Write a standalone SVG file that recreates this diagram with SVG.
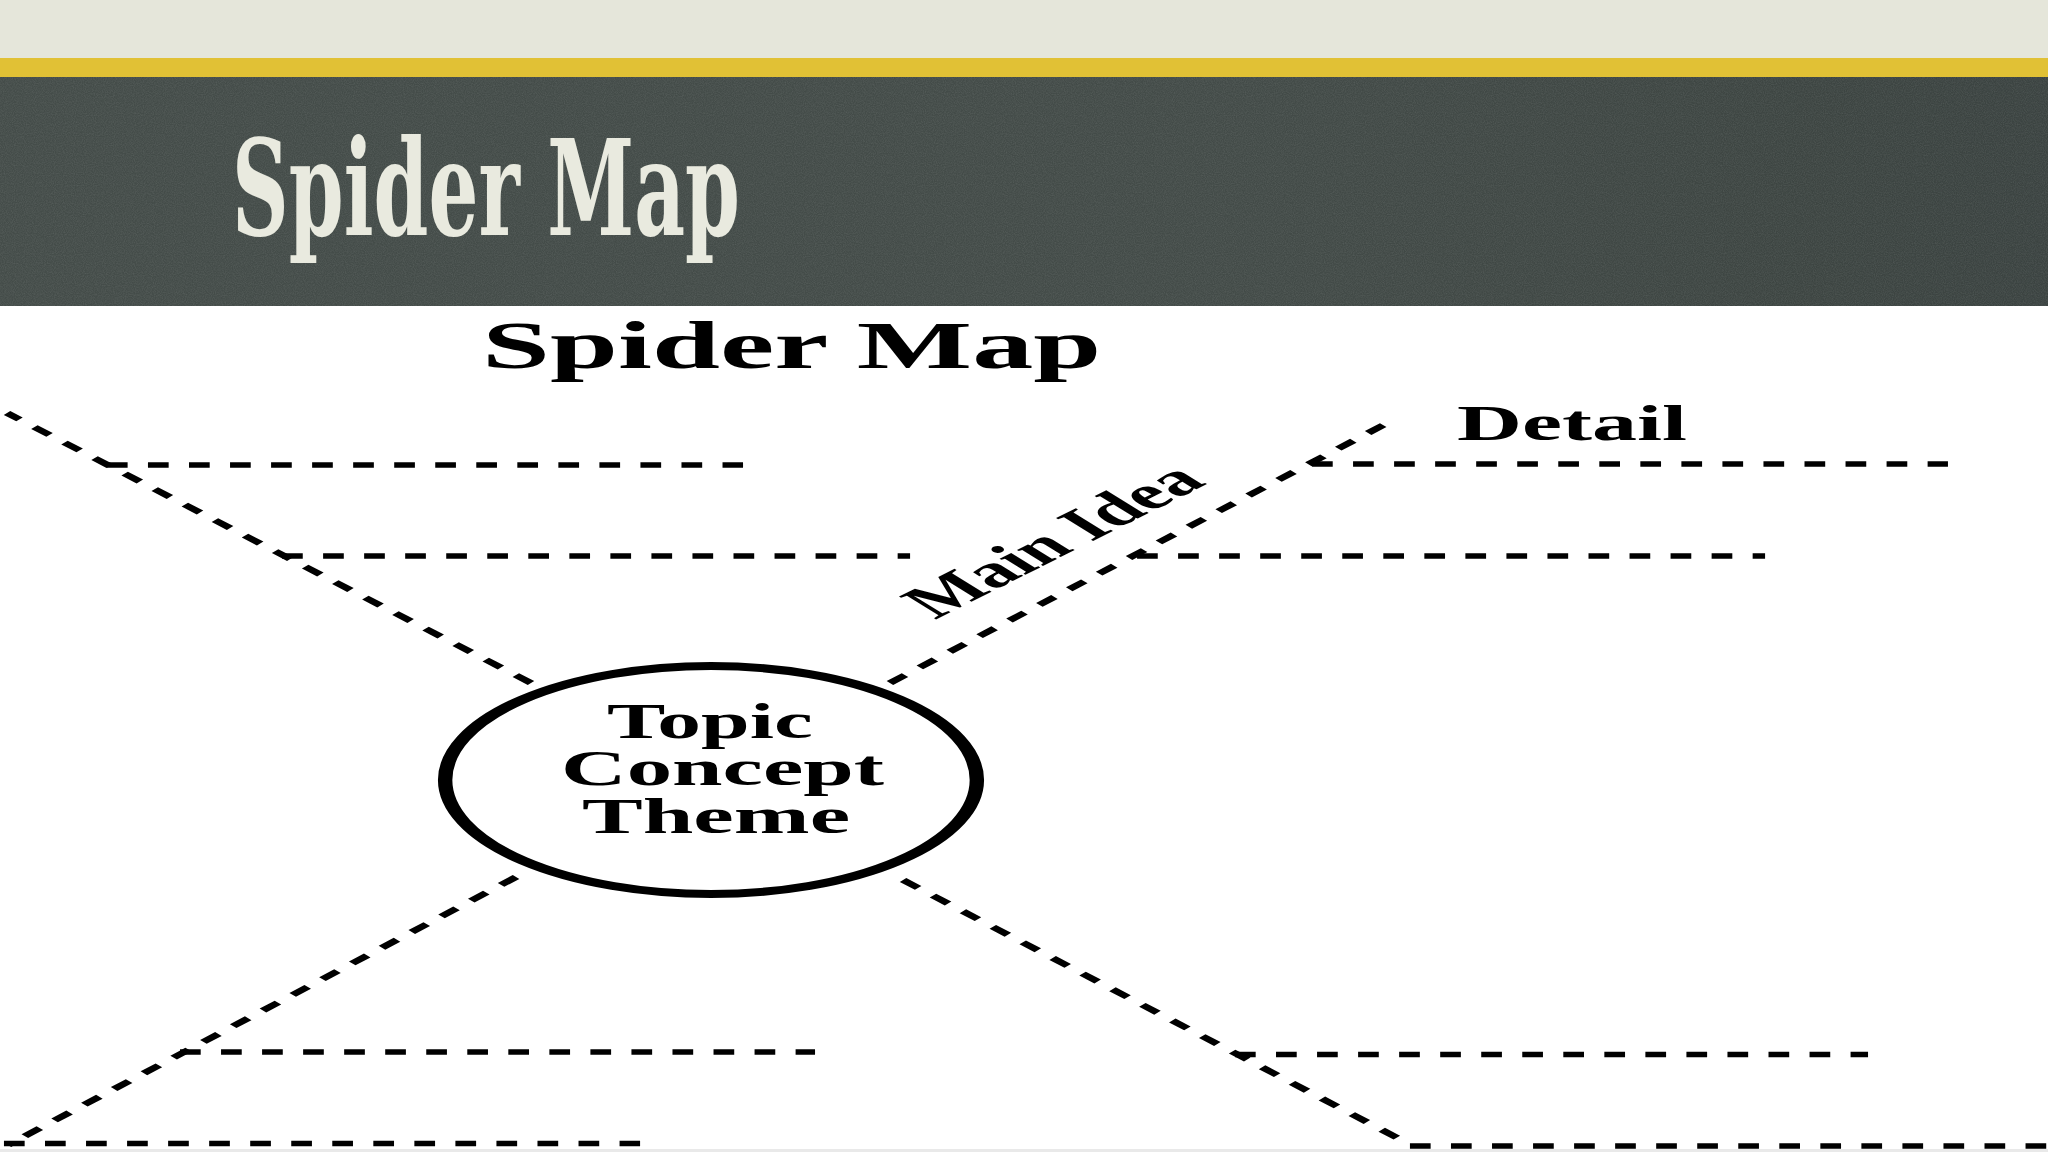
<svg xmlns="http://www.w3.org/2000/svg" width="2048" height="1152" viewBox="0 0 2048 1152">
  <defs>
    <linearGradient id="board" x1="0" y1="0" x2="1" y2="0">
      <stop offset="0" stop-color="#444c49"/>
      <stop offset="0.6" stop-color="#434b48"/>
      <stop offset="0.88" stop-color="#3d4542"/>
      <stop offset="1" stop-color="#3b4341"/>
    </linearGradient>
    <filter id="chalk" x="0" y="0" width="1" height="1">
      <feTurbulence type="fractalNoise" baseFrequency="0.9" numOctaves="2" seed="3" result="n"/>
      <feColorMatrix in="n" type="matrix" values="0 0 0 0 0.85  0 0 0 0 0.88  0 0 0 0 0.86  0 0 0 0.16 -0.05" result="c"/>
      <feComposite in="c" in2="SourceGraphic" operator="in"/>
    </filter>
    <style>
      .dash { fill: none; stroke: #000; stroke-width: 5.3; stroke-dasharray: 11.5 11.3; }
      .lbl { font-family: "Liberation Serif", "Times New Roman", serif; font-weight: bold; fill: #000; }
      .head { font-family: "DejaVu Serif", "Liberation Serif", serif; font-weight: bold; fill: #e9eadf; }
    </style>
  </defs>

  <!-- background / header -->
  <g id="background">
    <rect x="0" y="0" width="2048" height="1152" fill="#ffffff"/>
    <rect x="0" y="0" width="2048" height="58" fill="#e5e6da"/>
    <rect x="0" y="58" width="2048" height="19" fill="#e1c135"/>
    <rect x="0" y="77" width="2048" height="229" fill="url(#board)"/>
    <rect x="0" y="77" width="2048" height="229" fill="#fff" filter="url(#chalk)"/>
    <rect x="0" y="1149" width="2048" height="3" fill="#e9e9e9"/>
  </g>

  <g id="slide-title">
    <text class="head" x="232" y="235" font-size="132" textLength="508" lengthAdjust="spacingAndGlyphs">Spider Map</text>
  </g>

  <g id="diagram" transform="scale(1.8,1)">
    <g id="connectors">
      <!-- upper left branch -->
      <line class="dash" x1="295" y1="683" x2="3.9" y2="413"/>
      <line class="dash" x1="59.4" y1="465" x2="412.8" y2="465"/>
      <line class="dash" x1="156.7" y1="556" x2="505.6" y2="556"/>
      <!-- upper right branch -->
      <line class="dash" x1="494.4" y1="683" x2="773.9" y2="420"/>
      <line class="dash" x1="728.9" y1="464" x2="1082.2" y2="464"/>
      <line class="dash" x1="631.7" y1="556" x2="980.6" y2="556"/>
      <!-- lower left branch -->
      <line class="dash" x1="286.7" y1="877" x2="4.4" y2="1145"/>
      <line class="dash" x1="100" y1="1052" x2="452.8" y2="1052"/>
      <line class="dash" x1="2.2" y1="1143.5" x2="355.6" y2="1143.5"/>
      <!-- lower right branch -->
      <line class="dash" x1="501.7" y1="880" x2="783.9" y2="1145"/>
      <line class="dash" x1="686.1" y1="1054.5" x2="1037.8" y2="1054.5"/>
      <line class="dash" x1="783.3" y1="1146" x2="1137.8" y2="1146"/>
    </g>

    <g id="map-title">
      <text class="lbl" x="267.8" y="368" font-size="68" textLength="344" lengthAdjust="spacingAndGlyphs">Spider Map</text>
    </g>

    <g id="topic-node">
      <ellipse cx="395" cy="780" rx="147.7" ry="114" fill="#fff" stroke="#000" stroke-width="8"/>
      <text class="lbl" x="337.2" y="738" font-size="50" textLength="114.4" lengthAdjust="spacingAndGlyphs">Topic</text>
      <text class="lbl" x="311.7" y="785" font-size="50" textLength="179.4" lengthAdjust="spacingAndGlyphs">Concept</text>
      <text class="lbl" x="323.3" y="833" font-size="50" textLength="149" lengthAdjust="spacingAndGlyphs">Theme</text>
    </g>

    <g id="main-idea-label">
      <text class="lbl" transform="translate(519.4,620) rotate(-42)" x="0" y="0" font-size="47" textLength="204" lengthAdjust="spacingAndGlyphs">Main Idea</text>
    </g>

    <g id="detail-label">
      <text class="lbl" x="809.4" y="440" font-size="50" textLength="127.8" lengthAdjust="spacingAndGlyphs">Detail</text>
    </g>
  </g>
</svg>
